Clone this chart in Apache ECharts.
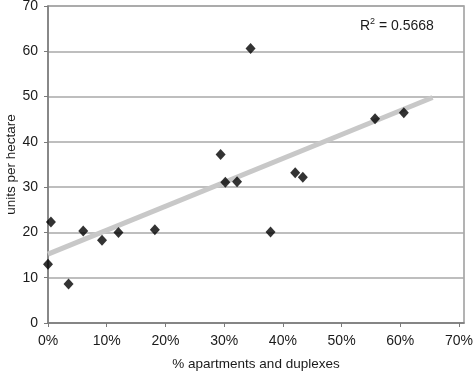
<!DOCTYPE html>
<html><head><meta charset="utf-8">
<script src="https://cdn.jsdelivr.net/npm/echarts@6/dist/echarts.min.js"></script>
<style>html,body{margin:0;padding:0;background:#fff}#c{width:474px;height:373px}</style>
</head><body><div id="c"></div>
<script>
var pctApartments = [0, 0.5, 3.5, 6.0, 9.2, 12.0, 18.2, 29.4, 30.2, 32.2, 34.5, 37.9, 42.1, 43.4, 55.7, 60.6];
var unitsPerHectare = [13.0, 22.3, 8.6, 20.3, 18.3, 20.0, 20.6, 37.2, 31.1, 31.2, 60.6, 20.1, 33.2, 32.2, 45.1, 46.4];
var trendX = [0, 65.5];
var trendY = [15.2, 49.8];
var xTicks = [0, 10, 20, 30, 40, 50, 60, 70];
var yTicks = [0, 10, 20, 30, 40, 50, 60, 70];
var r2Label = '0.5668';

var pts = pctApartments.map(function (x, i) { return [x, unitsPerHectare[i]]; });
var trend = trendX.map(function (x, i) { return [x, trendY[i]]; });
var font = 'Liberation Sans, Arial, sans-serif';
var chart = echarts.init(document.getElementById('c'));
chart.setOption({
  animation: false,
  grid: { left: 48, right: 10, top: 6, bottom: 50, containLabel: false, outerBoundsMode: 'none',
    show: true, borderColor: '#9a9a9a', borderWidth: 1.5 },
  xAxis: {
    type: 'value', min: 0, max: 70.85, interval: 10,
    name: '% apartments and duplexes', nameLocation: 'middle', nameGap: 34, nameMoveOverlap: false,
    nameTextStyle: { fontFamily: font, fontSize: 13.5, color: '#1a1a1a' },
    axisLine: { lineStyle: { color: '#7a7a7a', width: 1.5 } },
    axisTick: { show: true, length: 4, lineStyle: { color: '#7a7a7a' } },
    axisLabel: { showMaxLabel: false, margin: 11, fontFamily: font, fontSize: 14, color: '#1a1a1a',
      formatter: function (v) { return xTicks.indexOf(v) >= 0 ? v + '%' : ''; } },
    splitLine: { show: false }
  },
  yAxis: {
    type: 'value', min: 0, max: 70, interval: 10,
    name: 'units per hectare', nameLocation: 'middle', nameGap: 30, nameMoveOverlap: false,
    nameTextStyle: { fontFamily: font, fontSize: 13.5, color: '#1a1a1a' },
    axisLine: { show: true, lineStyle: { color: '#7a7a7a', width: 1.5 } },
    axisTick: { show: true, length: 4, lineStyle: { color: '#7a7a7a' } },
    axisLabel: { margin: 10, fontFamily: font, fontSize: 14, color: '#1a1a1a',
      formatter: function (v) { return yTicks.indexOf(v) >= 0 ? String(v) : ''; } },
    splitLine: { show: true, lineStyle: { color: '#a8a8a8', width: 1.5 } }
  },
  graphic: [{
    type: 'text', left: 360, top: 17,
    style: {
      text: '{r|R}{s|2}{r| = ' + r2Label + '}',
      rich: {
        r: { fontFamily: font, fontSize: 14, fill: '#1a1a1a', lineHeight: 18 },
        s: { fontFamily: font, fontSize: 9, fill: '#1a1a1a', verticalAlign: 'top', lineHeight: 18, padding: [0, 0, 6, 0] }
      }
    }
  }],
  series: [{
    type: 'line', data: trend, symbol: 'none', silent: true, z: 1,
    lineStyle: { color: '#c8c8c8', width: 5 }
  }, {
    type: 'scatter', data: pts, symbol: 'diamond', symbolSize: [10, 11], z: 3,
    itemStyle: { color: '#000' }
  }]
});
</script></body></html>
